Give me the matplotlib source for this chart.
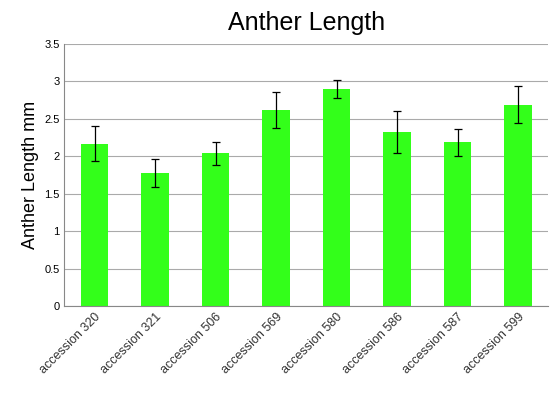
import matplotlib
matplotlib.use("Agg")
import matplotlib.pyplot as plt

plt.rcParams["font.family"] = ["Liberation Sans", "DejaVu Sans"]

categories = ["accession 320", "accession 321", "accession 506", "accession 569",
              "accession 580", "accession 586", "accession 587", "accession 599"]
lengths = [2.17, 1.78, 2.04, 2.62, 2.90, 2.32, 2.19, 2.69]
errors = [0.23, 0.19, 0.15, 0.24, 0.12, 0.28, 0.18, 0.25]
yticks = [0, 0.5, 1, 1.5, 2, 2.5, 3, 3.5]
ylabels = ["0", "0.5", "1", "1.5", "2", "2.5", "3", "3.5"]

fig = plt.figure(figsize=(5.5, 4.0), dpi=100)
ax = fig.add_axes([0.117, 0.235, 0.88, 0.655])
x = range(len(categories))
ax.bar(x, lengths, width=0.45, color="#33ff1a", yerr=errors,
       error_kw=dict(ecolor="black", elinewidth=0.9, capsize=3, capthick=0.9), zorder=2)
ax.set_ylim(0, 3.5)
ax.set_xlim(-0.5, len(categories) - 0.5)
ax.set_yticks(yticks)
ax.set_yticklabels(ylabels, fontsize=8)
ax.set_xticks(list(x))
ax.set_xticklabels(categories, rotation=45, ha="right", fontsize=9, rotation_mode="anchor",
                   color="#333333")
ax.yaxis.grid(True, color="#aaaaaa", lw=0.8, zorder=0)
ax.set_axisbelow(True)
for s in ["top", "right"]:
    ax.spines[s].set_visible(False)
ax.spines["left"].set_color("#888888")
ax.spines["bottom"].set_color("#888888")
ax.tick_params(length=0)
ax.set_ylabel("Anther Length mm", fontsize=13)
ax.set_title("Anther Length", fontsize=18, pad=10)
fig.savefig("out.png")
